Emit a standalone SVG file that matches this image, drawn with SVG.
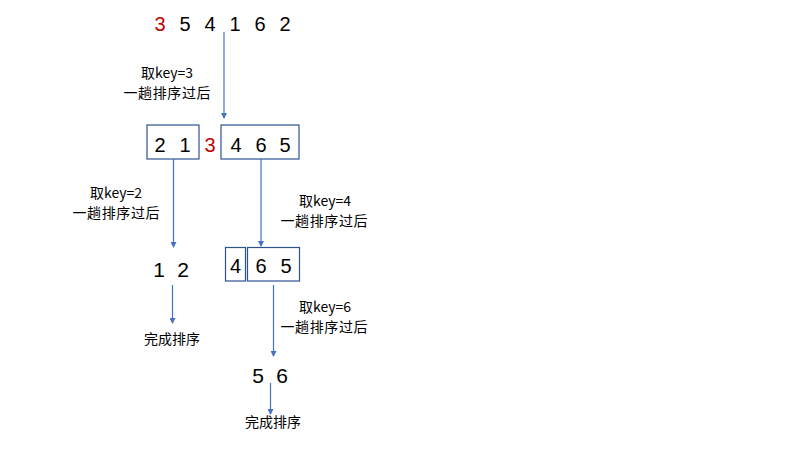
<svg xmlns="http://www.w3.org/2000/svg" width="800" height="450" viewBox="0 0 800 450">
<style>
.d{font-family:"Liberation Sans","Noto Sans CJK SC",sans-serif;font-size:20px;fill:#000;text-anchor:middle}
.r{fill:#C00000}
.l{font-family:"Noto Sans CJK SC","Liberation Sans",sans-serif;font-size:14px;fill:#000;text-anchor:middle}
.box{fill:none;stroke:#2F528F;stroke-width:1.2}
.c{stroke:#4472C4;stroke-width:1.2;fill:none;marker-end:url(#ah)}
</style>
<defs>
<marker id="ah" markerWidth="6" markerHeight="6" refX="5" refY="3" orient="auto" markerUnits="userSpaceOnUse">
<path d="M0,0 L6,3 L0,6 Z" fill="#4472C4"/>
</marker>
</defs>
<rect width="800" height="450" fill="#fff"/>
<g id="row0">
<text class="d r" x="160" y="31">3</text>
<text class="d" x="185" y="31">5</text>
<text class="d" x="210" y="31">4</text>
<text class="d" x="235" y="31">1</text>
<text class="d" x="260" y="31">6</text>
<text class="d" x="285" y="31">2</text>
</g>
<g id="label1">
<text class="l" x="167" y="78">取key=3</text>
<text class="l" x="167" y="98" textLength="87" lengthAdjust="spacing">一趟排序过后</text>
</g>
<g id="left1">
<rect class="box" x="147" y="125" width="52" height="34"/>
<text class="d" x="160" y="152">2</text>
<text class="d" x="185" y="152">1</text>
</g>
<g id="pivot1">
<text class="d r" x="210" y="152">3</text>
</g>
<g id="right1">
<rect class="box" x="221" y="125" width="78" height="34"/>
<text class="d" x="236" y="152">4</text>
<text class="d" x="261" y="152">6</text>
<text class="d" x="285" y="152">5</text>
</g>
<g id="label2">
<text class="l" x="116" y="198">取key=2</text>
<text class="l" x="116" y="218" textLength="87" lengthAdjust="spacing">一趟排序过后</text>
</g>
<g id="label3">
<text class="l" x="325" y="206">取key=4</text>
<text class="l" x="324" y="226" textLength="87" lengthAdjust="spacing">一趟排序过后</text>
</g>
<g id="left2">
<text class="d" x="159" y="277" style="font-size:21px">1</text>
<text class="d" x="183" y="277" style="font-size:21px">2</text>
</g>
<g id="pivot2">
<rect class="box" x="225.5" y="247.5" width="20" height="33.5"/>
<text class="d" x="235.5" y="273">4</text>
</g>
<g id="right2">
<rect class="box" x="247.5" y="247.5" width="52" height="33.5"/>
<text class="d" x="261" y="273">6</text>
<text class="d" x="286" y="273">5</text>
</g>
<g id="done1">
<text class="l" x="172" y="344">完成排序</text>
</g>
<g id="label4">
<text class="l" x="325" y="312">取key=6</text>
<text class="l" x="324" y="332" textLength="87" lengthAdjust="spacing">一趟排序过后</text>
</g>
<g id="row3">
<text class="d" x="258" y="383" style="font-size:21px">5</text>
<text class="d" x="282" y="383" style="font-size:21px">6</text>
</g>
<g id="done2">
<text class="l" x="273" y="427">完成排序</text>
</g>
<g id="connectors">
<line class="c" x1="224" y1="32" x2="224" y2="118"/>
<line class="c" x1="173.5" y1="159" x2="173.5" y2="247"/>
<line class="c" x1="261" y1="159" x2="261" y2="246"/>
<line class="c" x1="172.5" y1="285" x2="172.5" y2="323"/>
<line class="c" x1="273.5" y1="285" x2="273.5" y2="356"/>
<line class="c" x1="270.5" y1="383" x2="270.5" y2="414"/>
</g>
</svg>
